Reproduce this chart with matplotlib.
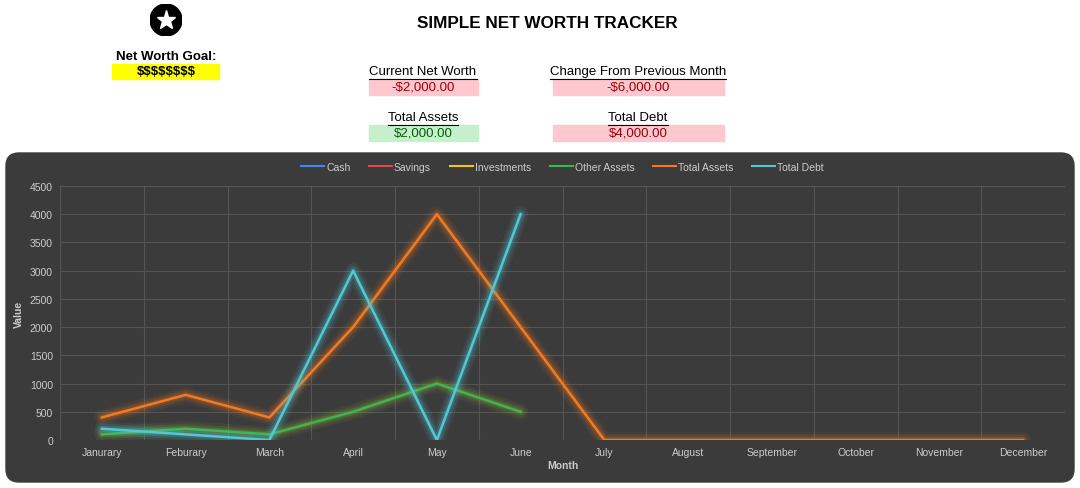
import numpy as np
import matplotlib.pyplot as plt
from matplotlib.patches import FancyBboxPatch, Circle

months = ['Janurary', 'Feburary', 'March', 'April', 'May', 'June', 'July',
          'August', 'September', 'October', 'November', 'December']
total_assets = [400, 800, 400, 2000, 4000, 2000, 0, 0, 0, 0, 0, 0]
total_debt = [200, 100, 0, 3000, 0, 4000]
other_assets = [100, 200, 100, 500, 1000, 500]

legend_names = ['Cash', 'Savings', 'Investments', 'Other Assets', 'Total Assets', 'Total Debt']
legend_colors = ['#3f87e8', '#e04848', '#f2c41c', '#3cb650', '#f47a20', '#4fc9d6']

plt.rcParams['font.family'] = ['Liberation Sans', 'DejaVu Sans']

W, H = 1080, 489
fig = plt.figure(figsize=(W / 100, H / 100), dpi=100)
fig.patch.set_facecolor('white')

def fx(x):
    return x / W

def fy(y):
    return 1 - y / H

# header star icon
hax = fig.add_axes([fx(150), fy(38), 32 / W, 34 / H])
hax.set_xlim(-1, 1); hax.set_ylim(-1, 1); hax.set_aspect('equal'); hax.axis('off')
hax.add_patch(Circle((0, 0), 1, color='black'))
hax.plot(0, 0, marker='*', color='white', markersize=14)

fig.text(fx(547), fy(23), 'SIMPLE NET WORTH TRACKER', ha='center', va='center',
         fontsize=12.3, fontweight='bold')
fig.text(fx(166), fy(57), 'Net Worth Goal:', ha='center', va='center',
         fontsize=9.5, fontweight='bold')
fig.patches.append(FancyBboxPatch((fx(112), fy(80)), 107 / W, 15 / H, boxstyle='square,pad=0',
                                  transform=fig.transFigure, color='#ffff00'))
fig.text(fx(166), fy(72), '$$$$$$$$', ha='center', va='center', fontsize=9.5,
         fontweight='bold', parse_math=False)

boxes = [
    (423, 'Current Net Worth', '-$2,000.00', '#ffc7ce', '#9c0006', 72, 88, 369, 478),
    (638, 'Change From Previous Month', '-$6,000.00', '#ffc7ce', '#9c0006', 72, 88, 553, 724),
    (423, 'Total Assets', '$2,000.00', '#c6efce', '#006100', 118, 134, 369, 478),
    (638, 'Total Debt', '$4,000.00', '#ffc7ce', '#9c0006', 118, 134, 553, 724),
]
labels = []
for cx, lab, val, bg, fg, ly, vy, x0, x1 in boxes:
    t = fig.text(fx(cx), fy(ly), lab, ha='center', va='center', fontsize=9.5)
    labels.append((t, cx, ly))
    fig.patches.append(FancyBboxPatch((fx(x0), fy(vy + 8)), (x1 - x0) / W, 16 / H,
                                      boxstyle='square,pad=0', transform=fig.transFigure,
                                      color=bg))
    fig.text(fx(cx), fy(vy), val, ha='center', va='center', fontsize=9.5,
             color=fg, parse_math=False)

renderer = fig.canvas.get_renderer()
for t, cx, ly in labels:
    w = t.get_window_extent(renderer).width
    fig.lines.append(plt.Line2D([fx(cx - w / 2), fx(cx + w / 2)], [fy(ly + 8), fy(ly + 8)],
                                transform=fig.transFigure, color='black', lw=0.8))

# dark panel
fig.patches.append(FancyBboxPatch((fx(6), fy(483)), 1068 / W, 329 / H,
                                  boxstyle='round,pad=0,rounding_size=0.012',
                                  transform=fig.transFigure, color='#3b3b3b',
                                  mutation_aspect=W / H, zorder=-10))

ax = fig.add_axes([fx(60), fy(441), (1065 - 60) / W, (441 - 187) / H])
ax.set_facecolor('none')
x = np.arange(len(months))
ax.set_xlim(-0.5, 11.5)
ax.set_ylim(0, 4500)
ax.set_yticks(range(0, 4501, 500))
ax.set_xticks(x)
ax.set_xticklabels(months)
ax.set_xticks(np.arange(-0.5, 12, 1), minor=True)
ax.grid(True, which='minor', axis='x', color='#555555', lw=0.8)
ax.grid(True, which='major', axis='y', color='#555555', lw=0.8)
ax.tick_params(which='both', length=0, colors='#cccccc', labelsize=7.5, pad=5)
for s in ax.spines.values():
    s.set_visible(False)
ax.set_xlabel('Month', color='#cccccc', fontsize=7.5, fontweight='bold', labelpad=2)
ax.set_ylabel('Value', color='#cccccc', fontsize=7.5, fontweight='bold', labelpad=4)

def glow(xs, ys, color, glow_color=None):
    gc = glow_color or color
    for lw, a in [(11, 0.08), (7.5, 0.12), (4.5, 0.18)]:
        ax.plot(xs, ys, color=gc, lw=lw, alpha=a, solid_capstyle='round')
    ax.plot(xs, ys, color=color, lw=1.8)

glow(x[:len(other_assets)], other_assets, '#3cb650', '#8fbf30')
glow(x, total_assets, legend_colors[4])
glow(x[:len(total_debt)], total_debt, legend_colors[5])

handles = [plt.Line2D([], [], color=c, lw=1.5) for c in legend_colors]
leg = ax.legend(handles, legend_names, loc='lower center', bbox_to_anchor=(0.5, 1.02),
                ncol=6, frameon=False, fontsize=7.5, handlelength=2.2, handletextpad=0.2,
                columnspacing=1.8, borderaxespad=0.5)
for t in leg.get_texts():
    t.set_color('#cccccc')

fig.savefig('out.png', dpi=100)
